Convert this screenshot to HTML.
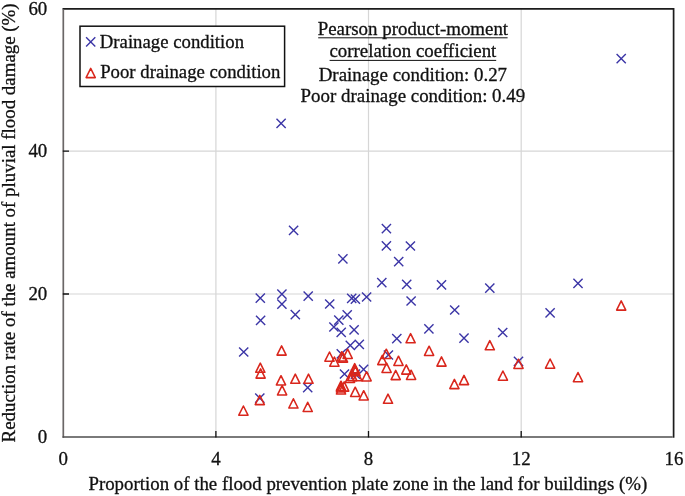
<!DOCTYPE html>
<html><head><meta charset="utf-8"><title>Scatter chart</title>
<style>
html,body{margin:0;padding:0;background:#fff;}
svg{display:block;}
text{font-family:"Liberation Serif","Times New Roman",serif;font-size:18.9px;fill:#111;stroke:#111;stroke-width:0.3px;}
.x{stroke:#3b35a6;stroke-width:1.4;fill:none;}
.t{stroke:#d9261c;stroke-width:1.55;fill:none;stroke-linejoin:round;}
</style></head><body>
<svg width="685" height="496" viewBox="0 0 685 496">
<rect x="0" y="0" width="685" height="496" fill="#ffffff"/>

<g stroke="#d6d6d6" stroke-width="1.2" fill="none">
<line x1="215.9" y1="8.2" x2="215.9" y2="436.9"/>
<line x1="368.5" y1="8.2" x2="368.5" y2="436.9"/>
<line x1="521.2" y1="8.2" x2="521.2" y2="436.9"/>
<line x1="63.2" y1="294.0" x2="673.9" y2="294.0"/>
<line x1="63.2" y1="151.1" x2="673.9" y2="151.1"/>
</g>
<g>
<path class="x" d="M616.6 54.1L625.8 63.3M616.6 63.3L625.8 54.1"/>
<path class="x" d="M276.5 118.7L285.7 127.9M276.5 127.9L285.7 118.7"/>
<path class="x" d="M289.0 225.8L298.2 235.0M289.0 235.0L298.2 225.8"/>
<path class="x" d="M338.3 254.3L347.5 263.5M338.3 263.5L347.5 254.3"/>
<path class="x" d="M381.8 224.1L391.0 233.3M381.8 233.3L391.0 224.1"/>
<path class="x" d="M381.8 241.2L391.0 250.4M381.8 250.4L391.0 241.2"/>
<path class="x" d="M405.8 241.4L415.0 250.6M405.8 250.6L415.0 241.4"/>
<path class="x" d="M394.1 257.1L403.3 266.3M394.1 266.3L403.3 257.1"/>
<path class="x" d="M377.2 278.0L386.4 287.2M377.2 287.2L386.4 278.0"/>
<path class="x" d="M402.1 279.7L411.3 288.9M402.1 288.9L411.3 279.7"/>
<path class="x" d="M436.9 280.2L446.1 289.4M436.9 289.4L446.1 280.2"/>
<path class="x" d="M485.2 283.5L494.4 292.7M485.2 292.7L494.4 283.5"/>
<path class="x" d="M573.4 278.7L582.6 287.9M573.4 287.9L582.6 278.7"/>
<path class="x" d="M255.7 293.5L264.9 302.7M255.7 302.7L264.9 293.5"/>
<path class="x" d="M277.3 289.6L286.5 298.8M277.3 298.8L286.5 289.6"/>
<path class="x" d="M277.3 299.6L286.5 308.8M277.3 308.8L286.5 299.6"/>
<path class="x" d="M303.6 291.5L312.8 300.7M303.6 300.7L312.8 291.5"/>
<path class="x" d="M325.1 299.4L334.3 308.6M325.1 308.6L334.3 299.4"/>
<path class="x" d="M290.7 310.1L299.9 319.3M290.7 319.3L299.9 310.1"/>
<path class="x" d="M256.0 315.7L265.2 324.9M256.0 324.9L265.2 315.7"/>
<path class="x" d="M239.1 347.4L248.3 356.6M239.1 356.6L248.3 347.4"/>
<path class="x" d="M362.0 292.4L371.2 301.6M362.0 301.6L371.2 292.4"/>
<path class="x" d="M347.1 293.8L356.3 303.0M347.1 303.0L356.3 293.8"/>
<path class="x" d="M350.8 294.5L360.0 303.7M350.8 303.7L360.0 294.5"/>
<path class="x" d="M342.6 310.3L351.8 319.5M342.6 319.5L351.8 310.3"/>
<path class="x" d="M334.2 315.6L343.4 324.8M334.2 324.8L343.4 315.6"/>
<path class="x" d="M329.3 322.4L338.5 331.6M329.3 331.6L338.5 322.4"/>
<path class="x" d="M336.6 327.7L345.8 336.9M336.6 336.9L345.8 327.7"/>
<path class="x" d="M349.5 325.3L358.7 334.5M349.5 334.5L358.7 325.3"/>
<path class="x" d="M392.2 334.0L401.4 343.2M392.2 343.2L401.4 334.0"/>
<path class="x" d="M406.5 296.4L415.7 305.6M406.5 305.6L415.7 296.4"/>
<path class="x" d="M450.1 305.4L459.3 314.6M450.1 314.6L459.3 305.4"/>
<path class="x" d="M424.3 324.3L433.5 333.5M424.3 333.5L433.5 324.3"/>
<path class="x" d="M459.4 333.5L468.6 342.7M459.4 342.7L468.6 333.5"/>
<path class="x" d="M498.1 327.9L507.3 337.1M498.1 337.1L507.3 327.9"/>
<path class="x" d="M545.5 308.2L554.7 317.4M545.5 317.4L554.7 308.2"/>
<path class="x" d="M513.9 356.8L523.1 366.0M513.9 366.0L523.1 356.8"/>
<path class="x" d="M345.7 340.7L354.9 349.9M345.7 349.9L354.9 340.7"/>
<path class="x" d="M354.7 339.8L363.9 349.0M354.7 349.0L363.9 339.8"/>
<path class="x" d="M336.7 349.2L345.9 358.4M336.7 358.4L345.9 349.2"/>
<path class="x" d="M339.9 369.4L349.1 378.6M339.9 378.6L349.1 369.4"/>
<path class="x" d="M359.0 364.7L368.2 373.9M359.0 373.9L368.2 364.7"/>
<path class="x" d="M350.8 369.6L360.0 378.8M350.8 378.8L360.0 369.6"/>
<path class="x" d="M383.8 350.4L393.0 359.6M383.8 359.6L393.0 350.4"/>
<path class="x" d="M255.2 393.5L264.4 402.7M255.2 402.7L264.4 393.5"/>
<path class="x" d="M303.1 383.0L312.3 392.2M303.1 392.2L312.3 383.0"/>
</g><g>
<path class="t" d="M621.2 300.9L625.8 310.1L616.6 310.1Z"/>
<path class="t" d="M281.6 345.9L286.2 355.1L277.0 355.1Z"/>
<path class="t" d="M260.3 363.1L264.9 372.3L255.7 372.3Z"/>
<path class="t" d="M260.6 368.9L265.2 378.1L256.0 378.1Z"/>
<path class="t" d="M281.0 375.7L285.6 384.9L276.4 384.9Z"/>
<path class="t" d="M295.3 374.1L299.9 383.3L290.7 383.3Z"/>
<path class="t" d="M308.5 374.1L313.1 383.3L303.9 383.3Z"/>
<path class="t" d="M282.1 385.7L286.7 394.9L277.5 394.9Z"/>
<path class="t" d="M259.8 395.4L264.4 404.6L255.2 404.6Z"/>
<path class="t" d="M293.4 398.8L298.0 408.0L288.8 408.0Z"/>
<path class="t" d="M307.7 402.3L312.3 411.5L303.1 411.5Z"/>
<path class="t" d="M243.4 406.0L248.0 415.2L238.8 415.2Z"/>
<path class="t" d="M329.5 352.0L334.1 361.2L324.9 361.2Z"/>
<path class="t" d="M334.4 357.0L339.0 366.2L329.8 366.2Z"/>
<path class="t" d="M341.8 351.7L346.4 360.9L337.2 360.9Z"/>
<path class="t" d="M343.0 352.9L347.6 362.1L338.4 362.1Z"/>
<path class="t" d="M347.7 349.2L352.3 358.4L343.1 358.4Z"/>
<path class="t" d="M354.7 363.6L359.3 372.8L350.1 372.8Z"/>
<path class="t" d="M354.7 365.2L359.3 374.4L350.1 374.4Z"/>
<path class="t" d="M355.5 366.4L360.1 375.6L350.9 375.6Z"/>
<path class="t" d="M352.3 371.4L356.9 380.6L347.7 380.6Z"/>
<path class="t" d="M350.0 373.2L354.6 382.4L345.4 382.4Z"/>
<path class="t" d="M357.4 371.6L362.0 380.8L352.8 380.8Z"/>
<path class="t" d="M366.6 371.7L371.2 380.9L362.0 380.9Z"/>
<path class="t" d="M341.0 381.2L345.6 390.4L336.4 390.4Z"/>
<path class="t" d="M341.0 382.7L345.6 391.9L336.4 391.9Z"/>
<path class="t" d="M341.0 384.8L345.6 394.0L336.4 394.0Z"/>
<path class="t" d="M344.2 381.9L348.8 391.1L339.6 391.1Z"/>
<path class="t" d="M355.2 387.2L359.8 396.4L350.6 396.4Z"/>
<path class="t" d="M363.7 390.7L368.3 399.9L359.1 399.9Z"/>
<path class="t" d="M388.0 394.1L392.6 403.3L383.4 403.3Z"/>
<path class="t" d="M382.3 355.4L386.9 364.6L377.7 364.6Z"/>
<path class="t" d="M386.3 349.2L390.9 358.4L381.7 358.4Z"/>
<path class="t" d="M386.6 363.2L391.2 372.4L382.0 372.4Z"/>
<path class="t" d="M398.5 356.2L403.1 365.4L393.9 365.4Z"/>
<path class="t" d="M395.7 370.4L400.3 379.6L391.1 379.6Z"/>
<path class="t" d="M410.6 333.6L415.2 342.8L406.0 342.8Z"/>
<path class="t" d="M429.1 346.2L433.7 355.4L424.5 355.4Z"/>
<path class="t" d="M441.5 356.9L446.1 366.1L436.9 366.1Z"/>
<path class="t" d="M406.3 364.9L410.9 374.1L401.7 374.1Z"/>
<path class="t" d="M411.1 370.2L415.7 379.4L406.5 379.4Z"/>
<path class="t" d="M454.4 379.4L459.0 388.6L449.8 388.6Z"/>
<path class="t" d="M464.0 375.4L468.6 384.6L459.4 384.6Z"/>
<path class="t" d="M489.8 340.6L494.4 349.8L485.2 349.8Z"/>
<path class="t" d="M502.9 371.0L507.5 380.2L498.3 380.2Z"/>
<path class="t" d="M518.5 359.2L523.1 368.4L513.9 368.4Z"/>
<path class="t" d="M550.1 359.0L554.7 368.2L545.5 368.2Z"/>
<path class="t" d="M578.0 372.5L582.6 381.7L573.4 381.7Z"/>
</g>
<path d="M62.5 8.8H673.6V437.7" fill="none" stroke="#1c1c1c" stroke-width="1.7" stroke-linejoin="miter"/>
<path d="M63.3 9.6V437.8" fill="none" stroke="#6b6767" stroke-width="1.7"/>
<path d="M62.5 437.0H672.7" fill="none" stroke="#4e4e4e" stroke-width="1.7"/>
<path d="M215.9 431.1V437.5M368.5 431.1V437.5M521.2 431.1V437.5M62.8 294.0H69.0M62.8 151.1H69.0" fill="none" stroke="#111" stroke-width="1.3"/>
<text x="47.3" y="14.5" text-anchor="end">60</text>
<text x="47.3" y="157.4" text-anchor="end">40</text>
<text x="47.3" y="300.3" text-anchor="end">20</text>
<text x="47.3" y="443.2" text-anchor="end">0</text>
<text x="63.3" y="465.4" text-anchor="middle">0</text>
<text x="216.0" y="465.4" text-anchor="middle">4</text>
<text x="368.6" y="465.4" text-anchor="middle">8</text>
<text x="521.3" y="465.4" text-anchor="middle">12</text>
<text x="674.0" y="465.4" text-anchor="middle">16</text>
<text x="367.9" y="489.6" text-anchor="middle" style="font-size:18.85px">Proportion of the flood prevention plate zone in the land for buildings (%)</text>
<text transform="translate(14.8 222.9) rotate(-90)" text-anchor="middle">Reduction rate of the amount of pluvial flood damage (%)</text>
<rect x="80" y="26.2" width="204.6" height="60.3" fill="#ffffff" stroke="#111" stroke-width="1.5"/>
<path class="x" d="M86.1 37.3L95.3 46.5M86.1 46.5L95.3 37.3"/>
<path class="t" d="M90.7 68.4L95.3 77.6L86.1 77.6Z"/>
<text x="99.8" y="47.7" style="font-size:18.75px">Drainage condition</text>
<text x="100.2" y="77.8" style="font-size:18.75px">Poor drainage condition</text>
<text x="412.9" y="34.6" text-anchor="middle">Pearson product-moment</text>
<text x="412.9" y="57.2" text-anchor="middle">correlation coefficient</text>
<text x="412.9" y="80.6" text-anchor="middle">Drainage condition: 0.27</text>
<text x="412.9" y="102.1" text-anchor="middle">Poor drainage condition: 0.49</text>
<path d="M318.2 37.8H507.6M329.6 60.4H496.2" stroke="#111" stroke-width="1" fill="none"/>
</svg></body></html>
